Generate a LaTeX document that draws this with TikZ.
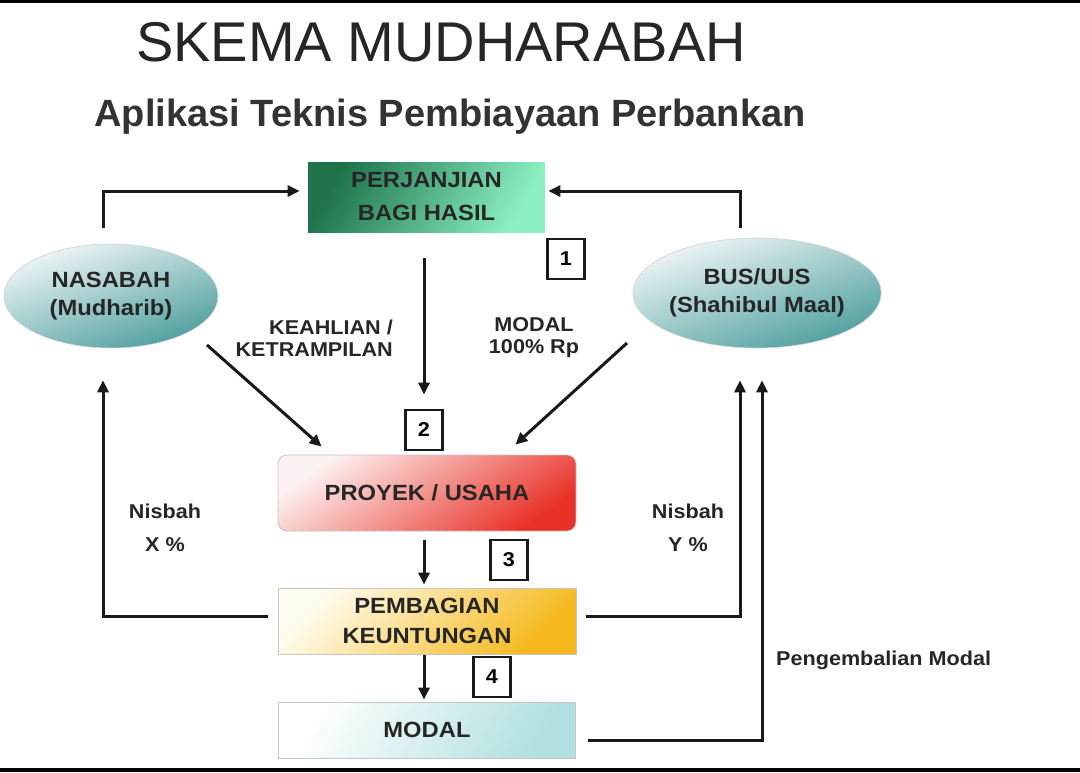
\documentclass[tikz,border=0pt]{standalone}
\usepackage{fontspec}
\setmainfont{Liberation Sans}
\newfontfamily\lbl{Liberation Sans}[FakeStretch=1.08]
\usetikzlibrary{arrows.meta,shapes.geometric,calc}
\definecolor{dkgreen}{RGB}{30,115,75}
\definecolor{mint}{RGB}{140,240,195}
\definecolor{tealdk}{RGB}{78,158,158}
\definecolor{tealtop}{RGB}{240,246,246}
\definecolor{redr}{RGB}{232,50,40}
\definecolor{pinkl}{RGB}{253,242,242}
\definecolor{gold}{RGB}{245,185,30}
\definecolor{creaml}{RGB}{255,253,240}
\definecolor{cyanl}{RGB}{176,224,224}
\definecolor{linec}{RGB}{25,25,25}
\begin{document}
\begin{tikzpicture}[x=1pt,y=-1pt,
  box/.style={draw=gray!45, line width=0.8pt, inner sep=0pt, align=center,
    font=\lbl\bfseries\fontsize{22}{30}\selectfont, text=black!85},
  ell/.style={ellipse, draw=gray!35, line width=0.6pt, inner sep=0pt, align=center,
    font=\lbl\bfseries\fontsize{22}{28}\selectfont, text=black!85,
    top color=tealtop, bottom color=tealdk, shading angle=20},
  numbox/.style={draw=black!90, line width=2.8pt, fill=white, inner sep=0pt,
    minimum width=37pt, minimum height=40pt, font=\lbl\bfseries\fontsize{20}{24}\selectfont},
  lab/.style={align=center, inner sep=0pt, font=\lbl\bfseries\fontsize{20}{22}\selectfont, text=black!85},
  conn/.style={line width=3pt, draw=linec, -{Triangle[length=12pt,width=11pt]}}
]
\useasboundingbox (0,0) rectangle (1080,772);
\fill[white] (0,0) rectangle (1080,772);
\fill[black] (0,0) rectangle (1080,2.5);
\fill[black] (0,768) rectangle (1080,772);

% titles
\node[inner sep=0pt, font=\fontsize{56}{60}\selectfont, text=black!85] (title) at (441,42) {SKEMA MUDHARABAH};
\node[inner sep=0pt, font=\bfseries\fontsize{38}{40}\selectfont, text=black!80] (sub) at (450,117) {Aplikasi Teknis Pembiayaan Perbankan};

% boxes
\node[box, minimum width=237pt, minimum height=70pt, draw=none,
  left color=dkgreen, right color=mint, shading angle=60,
  font=\lbl\bfseries\fontsize{22}{33}\selectfont] (perj) at (426.5,197) {PERJANJIAN\\BAGI HASIL};
\node[ell, minimum width=214pt, minimum height=104pt] (nas) at (111,296) {NASABAH\\(Mudharib)};
\node[ell, minimum width=230pt, minimum height=110pt] (bus) at (757,293) {BUS/UUS\\(Shahibul Maal)};
\node[box, rounded corners=9pt, minimum width=298pt, minimum height=76pt,
  left color=pinkl, right color=redr, shading angle=35] (proy) at (427,493) {PROYEK / USAHA};
\node[box, minimum width=298pt, minimum height=66pt,
  left color=creaml, right color=gold, shading angle=45] (pemb) at (427,621) {PEMBAGIAN\\KEUNTUNGAN};
\node[box, minimum width=297pt, minimum height=56pt,
  left color=white, right color=cyanl, shading angle=60] (modal) at (427,730) {MODAL};

% number boxes
\node[numbox] (n1) at (566,259) {1};
\node[numbox] (n2) at (424,430) {2};
\node[numbox] (n3) at (509,560) {3};
\node[numbox] (n4) at (492,677) {4};

% labels
\node[lab, align=right, anchor=east] (keah) at (393,338) {KEAHLIAN /\\KETRAMPILAN};
\node[lab] (modlab) at (534,338) {MODAL\\100\% Rp};
\node[lab, font=\lbl\bfseries\fontsize{20}{33}\selectfont] (nisx) at (165,528) {Nisbah\\X \%};
\node[lab, font=\lbl\bfseries\fontsize{20}{33}\selectfont] (nisy) at (688,528) {Nisbah\\Y \%};
\node[lab, anchor=west] (peng) at (776,660) {Pengembalian Modal};

% connectors
\draw[conn] ([shift={(-8,-16)}]nas.north) |- ([shift={(-8,-6)}]perj.west);
\draw[conn] ([shift={(-17,-10)}]bus.north) |- ([shift={(3,-6)}]perj.east);
\draw[conn] ([shift={(-2.5,26)}]perj.south) -- ([shift={(0,-14)}]n2.north);
\draw[conn] ([shift={(96,49)}]nas.center) -- ([shift={(44,-8)}]proy.north west);
\draw[conn] ([shift={(-130,50)}]bus.center) -- ([shift={(-61,-10)}]proy.north east);
\draw[conn] ([shift={(-3,9)}]proy.south) -- ([shift={(-3,-3)}]pemb.north);
\draw[conn] ([shift={(-3,1)}]pemb.south) -- ([shift={(-3,-2)}]modal.north);
\draw[conn] ([shift={(-10,-5)}]pemb.west) -| ([shift={(-8,32)}]nas.south);
\draw[conn] ([shift={(10,-5)}]pemb.east) -| ([shift={(-17,32)}]bus.south);
\draw[conn] ([shift={(12,10)}]modal.east) -| ([shift={(5,32)}]bus.south);
\end{tikzpicture}
\end{document}
